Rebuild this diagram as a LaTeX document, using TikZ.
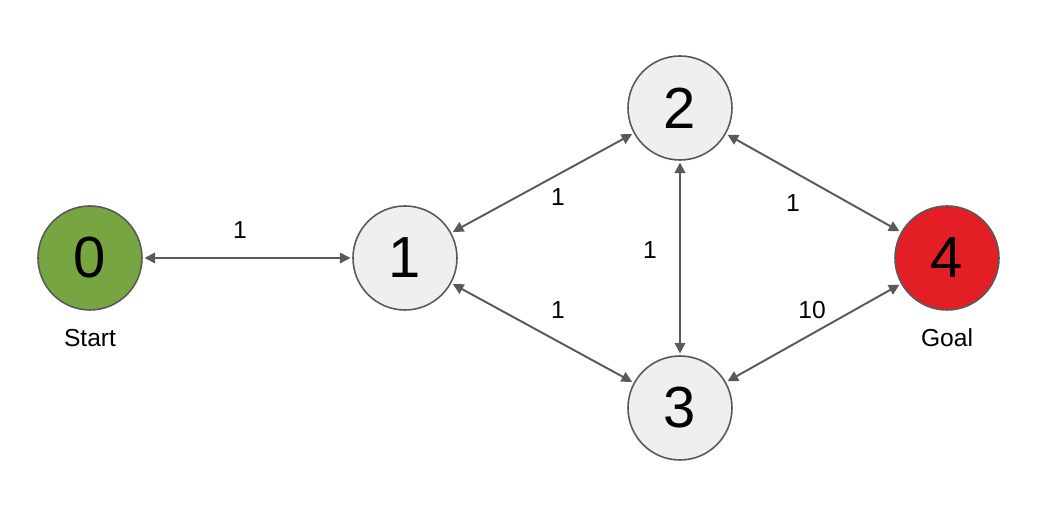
\documentclass[tikz,border=0pt]{standalone}
\usepackage{fontspec}
\setmainfont{Liberation Sans}
\usetikzlibrary{arrows.meta}
\definecolor{startgreen}{HTML}{76A541}
\definecolor{goalred}{HTML}{E31E24}
\definecolor{nodegray}{HTML}{EFEFEF}
\definecolor{linegray}{HTML}{595959}
\tikzset{
  state/.style={circle, draw=linegray, line width=0.9pt, minimum size=2.08cm, inner sep=0pt, font=\fontsize{33}{33}\selectfont},
  link/.style={draw=linegray, line width=1.1pt, {Triangle[length=6pt,width=6pt]}-{Triangle[length=6pt,width=6pt]}, shorten <=1pt, shorten >=1pt},
  weight/.style={font=\fontsize{14}{14}\selectfont},
}
\begin{document}
\begin{tikzpicture}
        \useasboundingbox (0,0) rectangle (21,10.46);                  %
        \node [state, fill=startgreen] (s0) at (1.8,5.3)   {0};       %Start
        \node [state, fill=nodegray]   (s1) at (8.1,5.3)   {1};       %
        \node [state, fill=nodegray]   (s2) at (13.6,8.3)  {2};       %
        \node [state, fill=nodegray]   (s3) at (13.6,2.3)  {3};       %
        \node [state, fill=goalred]    (s4) at (18.94,5.3) {4};       %Goal
        \node [weight] (start) at (1.8,3.7)   {Start};                %
        \node [weight] (goal)  at (18.94,3.7) {Goal};                 %

        \draw [link] (s0) -- (s1);                                    %
        \draw [link] (s1) -- (s2);                                    %
        \draw [link] (s1) -- (s3);                                    %
        \draw [link] (s2) -- (s3);                                    %
        \draw [link] (s2) -- (s4);                                    %
        \draw [link] (s3) -- (s4);                                    %

        \node [weight] (w01) at (4.8,5.86)   {1};                     %
        \node [weight] (w12) at (11.16,6.52) {1};                     %
        \node [weight] (w13) at (11.16,4.26) {1};                     %
        \node [weight] (w23) at (13.0,5.46)  {1};                     %
        \node [weight] (w24) at (15.86,6.4)  {1};                     %
        \node [weight] (w34) at (16.24,4.26) {10};                    %
\end{tikzpicture}
\end{document}
